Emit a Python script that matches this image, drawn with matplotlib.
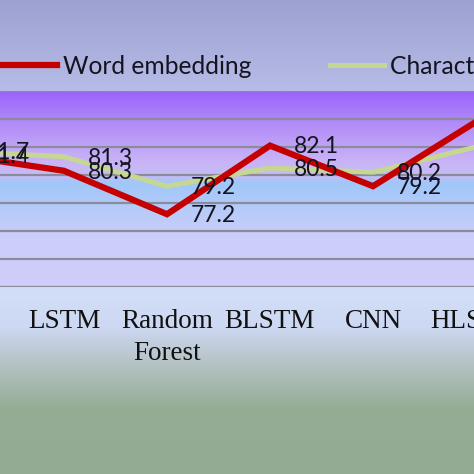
import numpy as np
import matplotlib.pyplot as plt
from matplotlib.colors import to_rgb

categories = ["", "LSTM", "Random\nForest", "BLSTM", "CNN", "HLSTM"]
word_emb = [81.4, 80.3, 77.2, 82.1, 79.2, 83.8]
char_emb = [81.7, 81.3, 79.2, 80.5, 80.2, 82.0]
y_ticks = [72, 74, 76, 78, 80, 82, 84, 86]


def gradient(stops, n=400):
    # stops: list of (pos 0..1 from top, colour)
    pos = np.array([s[0] for s in stops])
    cols = np.array([to_rgb(s[1]) for s in stops])
    t = np.linspace(0, 1, n)
    img = np.stack([np.interp(t, pos, cols[:, k]) for k in range(3)], axis=1)
    return img[:, None, :]


fig = plt.figure(figsize=(4.74, 4.74), dpi=100)

# figure background
bg = fig.add_axes([0, 0, 1, 1], zorder=-10)
bg.imshow(gradient([(0.0, '#9da1d1'), (0.18, '#b6bae6'), (0.19, '#b6bae6'),
                    (0.62, '#d2ddf8'), (0.69, '#cdd8f2'), (0.77, '#b4c2c4'),
                    (0.86, '#95ad95'), (1.0, '#94ab93')]),
          aspect='auto', extent=[0, 1, 0, 1])
bg.set_axis_off()

ax = fig.add_axes([-100 / 474, 187 / 474, 660 / 474, 196 / 474])
ax.imshow(gradient([(0.0, '#9a62fc'), (0.15, '#b088f8'), (0.35, '#c8b2f6'),
                    (0.43, '#c6bcf6'), (0.47, '#9fc7f8'), (0.6, '#b6cbf8'),
                    (0.75, '#cccdf9'), (1.0, '#cfcefb')]),
          aspect='auto', extent=[0, 1, 0, 1], transform=ax.transAxes, zorder=0)

x = np.arange(len(categories))
ax.plot(x, char_emb, color='#c6d794', lw=3.6, solid_joinstyle='miter', zorder=3,
        label='Character embedding')
ax.plot(x, word_emb, color='#c40000', lw=4.5, solid_joinstyle='miter', zorder=4,
        label='Word embedding')

for xi, v in zip(x, char_emb):
    ax.annotate(f'{v:.1f}', (xi, v), xytext=(17, -1), textcoords='offset points',
                ha='left', va='center', fontsize=16.5, family='Lato',
                color='#141420', zorder=6, annotation_clip=False)
for xi, v in zip(x, word_emb):
    ax.annotate(f'{v:.1f}', (xi, v), xytext=(17, -1), textcoords='offset points',
                ha='left', va='center', fontsize=16.5, family='Lato',
                color='#141420', zorder=6, annotation_clip=False)

ax.set_xlim((-100 + 39) / 103, (560 + 39) / 103)
ax.set_ylim(72, 86)
ax.set_yticks(y_ticks)
ax.yaxis.grid(True, color='#8b8b9b', lw=1.6)
ax.set_axisbelow(True)
ax.tick_params(axis='y', length=0, labelleft=False)
ax.set_xticks(x)
ax.set_xticklabels(categories, family='Liberation Serif', fontsize=19.5,
                   color='#111111', linespacing=1.35)
ax.tick_params(axis='x', length=0, pad=16)
for s in ax.spines.values():
    s.set_visible(False)

handles, labels = ax.get_legend_handles_labels()
fig.legend(handles[::-1], labels[::-1], loc='center left',
           bbox_to_anchor=(3 / 474, 1 - 66 / 474), ncol=2, frameon=False,
           prop={'family': 'Lato', 'size': 17.7}, handlelength=2.2,
           handletextpad=0.25, columnspacing=3.2, borderpad=0, borderaxespad=0,
           labelcolor='#141420')

fig.savefig('out.png', dpi=100)
